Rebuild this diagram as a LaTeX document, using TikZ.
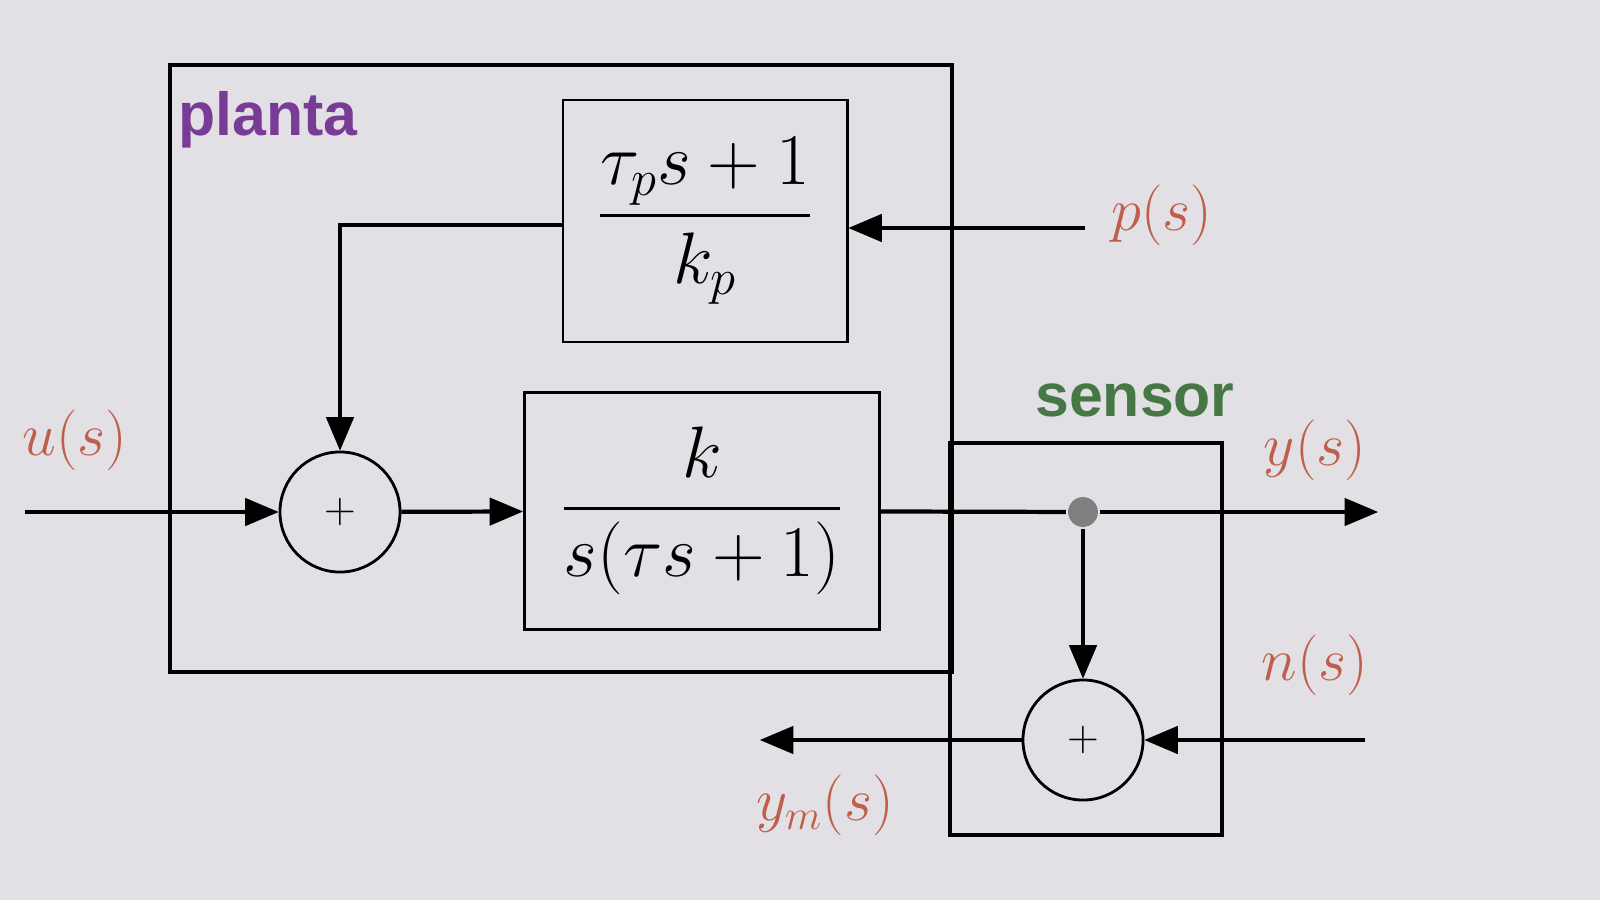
\documentclass[tikz,border=0pt]{standalone}
\usepackage{amsmath}
\usepackage{fontspec}
\newfontfamily\labelfont{Liberation Sans}
\usetikzlibrary{arrows,shapes,positioning}
\definecolor{sig}{RGB}{190,95,75}
\definecolor{bg}{RGB}{226,224,228}
\definecolor{plantcol}{RGB}{120,60,150}
\definecolor{sensorcol}{RGB}{70,120,70}

\begin{document}
\begin{tikzpicture}[>=triangle 45,very thick,x=0.01cm,y=-0.01cm]
  \tikzstyle{block}=[draw,thick,inner sep=0pt]
  \tikzstyle{sum}=[draw,thick,circle,minimum size=1.2cm,inner sep=0pt]
  \tikzstyle{signal}=[text=sig,font=\LARGE]
  \tikzstyle{frame}=[font=\labelfont\bfseries\LARGE]

  \fill[bg] (0,0) rectangle (1600,900);
  \useasboundingbox (0,0) rectangle (1600,900);

  % frames
  \draw (170,65) rectangle (952,672);
  \draw (950,443) rectangle (1222,835);
  \node[frame,text=plantcol] (planta) at (268,120) {planta};
  \node[frame,text=sensorcol] (sensor) at (1135,400) {sensor};

  \node[block,minimum width=2.84cm,minimum height=2.42cm] (P) at (705,221)
       {\huge $\dfrac{\tau_p s+1}{k_p}$};
  \node[block,minimum width=3.55cm,minimum height=2.37cm] (G) at (702,511)
       {\huge $\dfrac{k}{s(\tau s+1)}$};
  \node[sum] (S1) at (340,512) {\large $+$};
  \node[sum] (S2) at (1083,740) {\large $+$};
  \node[circle,fill=gray,inner sep=3pt] (br) at (1083,512) {};

  \coordinate (uin) at (25,512);
  \coordinate (yout) at (1378,512);
  \coordinate (pin) at (1085,228);
  \coordinate (nin) at (1365,740);
  \coordinate (ymout) at (760,740);
  \coordinate (corner) at (340,225);

  \draw[->] (uin) -- (S1);
  \draw[->] (S1) -- (G);
  \draw (G) -- (br);
  \draw[->] (br) -- (yout);
  \draw[->] (br) -- (S2);
  \draw[->] (pin) -- (P.east |- pin);
  \draw[->] (P.west |- corner) -- (corner) -- (S1);
  \draw[->] (nin) -- (S2);
  \draw[->] (S2) -- (ymout);

  \node[signal] (u) at (75,440) {$u(s)$};
  \node[signal] (p) at (1162,215) {$p(s)$};
  \node[signal] (y) at (1315,450) {$y(s)$};
  \node[signal] (n) at (1315,665) {$n(s)$};
  \node[signal] (ym) at (825,805) {$y_m(s)$};
\end{tikzpicture}
\end{document}
